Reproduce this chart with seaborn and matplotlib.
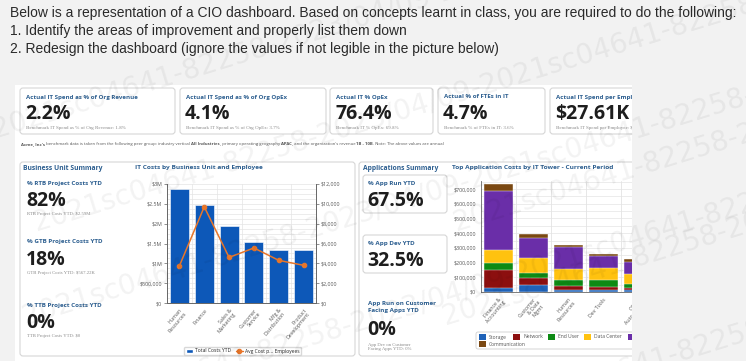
import matplotlib
matplotlib.use("Agg")
import matplotlib.pyplot as plt
from matplotlib.patches import FancyBboxPatch, Rectangle
from matplotlib.lines import Line2D
from matplotlib.transforms import Affine2D
from matplotlib.ticker import MultipleLocator
import pandas as pd
import seaborn as sns

W, H = 746, 361

# ---- data ----
header_lines = [
    "Below is a representation of a CIO dashboard. Based on concepts learnt in class, you are required to do the following:",
    "1. Identify the areas of improvement and properly list them down",
    "2. Redesign the dashboard (ignore the values if not legible in the picture below)",
]
kpi_titles = ["Actual IT Spend as % of Org Revenue", "Actual IT Spend as % of Org OpEx",
              "Actual IT % OpEx", "Actual % of FTEs in IT", "Actual IT Spend per Employee"]
kpi_values = ["2.2%", "4.1%", "76.4%", "4.7%", "$27.61K"]
kpi_benchmarks = ["Benchmark IT Spend as % of Org Revenue: 1.8%",
                  "Benchmark IT Spend as % of Org OpEx: 3.7%",
                  "Benchmark IT % OpEx: 69.8%",
                  "Benchmark % of FTEs in IT: 3.6%",
                  "Benchmark IT Spend per Employee: $21.40K"]
note_parts = [("Acme, Inc's", True),
              (" benchmark data is taken from the following peer group: industry vertical ", False),
              ("All Industries", True), (", primary operating geography ", False), ("APAC", True),
              (", and the organization's revenue ", False), ("1B - 10B", True),
              (". Note: The above values are annual", False)]

bu_kpi_titles = ["% RTB Project Costs YTD", "% GTB Project Costs YTD", "% TTB Project Costs YTD"]
bu_kpi_values = ["82%", "18%", "0%"]
bu_kpi_subs = ["RTB Project Costs YTD: $2.59M", "GTB Project Costs YTD: $567.22K", "TTB Project Costs YTD: $0"]

bu_units = ["Human\nResources", "Finance", "Sales &\nMarketing", "Customer\nService",
            "Mfg &\nDistribution", "Product\nDevelopment"]
bu_total = [2870000, 2460000, 1950000, 1530000, 1330000, 1330000]
bu_avg = [3750, 9700, 4600, 5550, 4300, 3800]
bu_left_ticks = [0, 500000, 1000000, 1500000, 2000000, 2500000, 3000000]
bu_left_labels = ["$0", "$500,000", "$1M", "$1.5M", "$2M", "$2.5M", "$3M"]
bu_right_ticks = [0, 2000, 4000, 6000, 8000, 10000, 12000]
bu_right_labels = ["$0", "$2,000", "$4,000", "$6,000", "$8,000", "$10,000", "$12,000"]

app_kpi_titles = ["% App Run YTD", "% App Dev YTD", "App Run on Customer\nFacing Apps YTD"]
app_kpi_values = ["67.5%", "32.5%", "0%"]
app_kpi_sub = "App Dev on Customer\nFacing Apps YTD: 0%"

app_cats = ["Finance &\nAccounting", "Customer\n& Data\nMgmt", "Human\nResources", "Dev Tools", "Office\nAutomation"]
towers = ["Storage", "Network", "End User", "Data Center", "Application", "Communication"]
storage = [27000, 46000, 16000, 16000, 11000]
network = [121000, 52000, 23000, 18000, 19000]
end_user = [46000, 32000, 41000, 50000, 22000]
data_center = [95000, 102000, 75000, 82000, 73000]
application = [401000, 137000, 148000, 80000, 80000]
communication = [43000, 23000, 20000, 11000, 18000]
app_ticks = [0, 100000, 200000, 300000, 400000, 500000, 600000, 700000]
app_labels = ["$0", "$100,000", "$200,000", "$300,000", "$400,000", "$500,000", "$600,000", "$700,000"]

watermark = "2021sc04641-82258-2023/04/09-"

# ---- style ----
BG = "#f2f2f2"
EDGE = "#d6d6d6"
TITLE = "#2d5f90"
GREY = "#8a8a8a"
DARK = "#1e1e1e"
BLUE = "#0d58b8"
ORANGE = "#e8762a"
tower_colors = ["#1f62b8", "#8c0f0f", "#0e8a14", "#ffc20f", "#6a2ea8", "#7a4812"]
UI = "Open Sans"
TXT = "Liberation Sans"

sns.set_theme(style="white")
plt.rcParams["font.family"] = [UI, "DejaVu Sans"]

fig = plt.figure(figsize=(W / 100, H / 100), dpi=100, facecolor=BG)
# pixel coordinates, origin top-left
T = Affine2D().scale(0.01, -0.01).translate(0, H / 100) + fig.dpi_scale_trans


def pt(p):
    return p * 0.72


def rect(x0, y0, x1, y1):
    return [x0 / W, 1 - y1 / H, (x1 - x0) / W, (y1 - y0) / H]


def box(x0, y0, x1, y1, fc="white", ec=EDGE, z=-4, r=3, lw=0.8):
    fig.add_artist(FancyBboxPatch((x0, y0), x1 - x0, y1 - y0, boxstyle=f"round,pad=0,rounding_size={r}",
                                  transform=T, fc=fc, ec=ec, lw=lw, zorder=z))


def txt(x, y, s, size, color=DARK, weight="normal", family=UI, **kw):
    return fig.text(x, y, s, transform=T, fontsize=pt(size), color=color, fontweight=weight,
                    family=[family, "DejaVu Sans"], va=kw.pop("va", "center"), **kw)


# faint screenshot watermark
for x0, y0 in [(-5, 138), (36, 231), (456, 231), (25, 325), (445, 325), (70, 419), (490, 419)]:
    fig.text(x0, y0, watermark * 2, transform=T, fontsize=20, color="#000000", alpha=0.05,
             rotation=17, rotation_mode="anchor", family="DejaVu Sans", zorder=20)

# header question text
for i, line in enumerate(header_lines):
    txt(10, 13 + 18 * i, line, 13.9, color="#2a2a2a", family=TXT)

# dashboard panel
fig.add_artist(Rectangle((15, 85), 617, 280, transform=T, fc="white", ec="none", zorder=-5))

# KPI cards
card_x = [(20, 175), (180, 326), (330, 433), (438, 545), (550, 720)]
for (x0, x1), t, v, b in zip(card_x, kpi_titles, kpi_values, kpi_benchmarks):
    box(x0, 88, x1, 134)
    txt(x0 + 6, 97, t, 6.2, color=TITLE, weight="bold")
    txt(x0 + 5, 114, v, 19.5, weight="bold")
    txt(x0 + 6, 128, b, 5.0, color=GREY, family="Liberation Serif")

# note line with bold fragments
renderer = fig.canvas.get_renderer()
nx = 21
for s, bold in note_parts:
    t = txt(nx, 144, s, 4.3, color="#555555", weight="bold" if bold else "normal")
    nx += t.get_window_extent(renderer).width

# lower boxes
box(20, 162, 355, 356)
box(359, 162, 720, 356)

# business unit summary
txt(23, 168, "Business Unit Summary", 6.8, color=TITLE, weight="bold")
for i, (t, v, s) in enumerate(zip(bu_kpi_titles, bu_kpi_values, bu_kpi_subs)):
    y0 = [183, 242, 305][i]
    txt(27, y0, t, 6.3, color=TITLE, weight="bold")
    txt(26, y0 + 18, v, 19.5, weight="bold")
    txt(27, y0 + 31, s, 4.8, color=GREY, family="Liberation Serif")

txt(135, 168, "IT Costs by Business Unit and Employee", 6.5, color=TITLE, weight="bold")

bu_df = pd.DataFrame({"unit": bu_units, "total": bu_total, "avg": bu_avg})
ax = fig.add_axes(rect(167, 184, 316, 303))
ax.set_axisbelow(True)
sns.barplot(data=bu_df, x="unit", y="total", color=BLUE, saturation=1, width=0.77,
            edgecolor="white", linewidth=0.4, ax=ax)
ax.set_ylim(0, 3000000)
ax.set_yticks(bu_left_ticks, bu_left_labels)
ax.yaxis.set_minor_locator(MultipleLocator(125000))
ax.grid(which="both", axis="y", color="#e4e4e4", lw=0.5)
for xb in [0.5, 1.5, 2.5, 3.5, 4.5]:
    ax.axvline(xb, color="#e4e4e4", lw=0.5, zorder=0)
ax.set_xlabel("")
ax.set_ylabel("")
ax.set_xticks(range(len(bu_units)), bu_units, rotation=50, ha="right", rotation_mode="anchor",
              fontsize=pt(5.2), color="#555555", linespacing=1.0)

ax2 = ax.twinx()
sns.pointplot(data=bu_df, x="unit", y="avg", color=ORANGE, marker="o", markersize=3.2,
              linewidth=1.1, ax=ax2)
ax2.set_ylim(0, 12000)
ax2.set_yticks(bu_right_ticks, bu_right_labels)
ax2.set_ylabel("")
ax2.set_xlabel("")
for a in (ax, ax2):
    a.spines["top"].set_visible(False)
    for side in ["left", "right", "bottom"]:
        a.spines[side].set_color("#666666")
        a.spines[side].set_linewidth(0.6)
    a.tick_params(axis="y", which="major", length=2, width=0.5, pad=1.5, labelsize=pt(5.2),
                  labelcolor="#555555", color="#666666")
    a.tick_params(axis="y", which="minor", length=0)
    a.tick_params(axis="x", length=2, width=0.5, pad=1.5, color="#666666")

leg_handles = [Rectangle((0, 0), 1, 1, fc=BLUE),
               Line2D([], [], color=ORANGE, marker="o", markersize=3, lw=1)]
ax.legend(leg_handles, ["Total Costs YTD", "Avg Cost p... Employees"], loc="center",
          bbox_to_anchor=((180 + 305) / 2 / W, 1 - 351 / H), bbox_transform=fig.transFigure,
          ncol=2, fontsize=pt(5.0), frameon=True, edgecolor="#cfcfcf", fancybox=True,
          handlelength=1.4, handleheight=0.9, columnspacing=1.0, borderpad=0.35, handletextpad=0.4)

# applications summary
txt(363, 168, "Applications Summary", 6.8, color=TITLE, weight="bold")
for i, (t, v) in enumerate(zip(app_kpi_titles[:2], app_kpi_values[:2])):
    y0 = [175, 235][i]
    box(363, y0, 447, y0 + 38, z=-3)
    txt(368, y0 + 9, t, 6.3, color=TITLE, weight="bold")
    txt(367, y0 + 26, v, 19.5, weight="bold")
txt(368, 307, app_kpi_titles[2], 6.3, color=TITLE, weight="bold", linespacing=1.3)
txt(367, 330, app_kpi_values[2], 19.5, weight="bold")
txt(368, 347, app_kpi_sub, 4.8, color=GREY, family="Liberation Serif", linespacing=1.3)

txt(452, 168, "Top Application Costs by IT Tower - Current Period", 6.5, color=TITLE, weight="bold")

app_df = pd.DataFrame({"cat": app_cats, "Storage": storage, "Network": network, "End User": end_user,
                       "Data Center": data_center, "Application": application,
                       "Communication": communication})
cum = app_df[towers].cumsum(axis=1)
ax3 = fig.add_axes(rect(481, 181, 656, 292))
ax3.set_axisbelow(True)
for name, col in reversed(list(zip(towers, tower_colors))):
    sns.barplot(x=app_df["cat"], y=cum[name], color=col, saturation=1, width=0.83,
                edgecolor="white", linewidth=0.3, ax=ax3)
ax3.set_ylim(0, 755000)
ax3.set_yticks(app_ticks, app_labels)
ax3.yaxis.set_minor_locator(MultipleLocator(50000))
ax3.grid(which="both", axis="y", color="#e4e4e4", lw=0.5)
for xb in [0.5, 1.5, 2.5, 3.5]:
    ax3.axvline(xb, color="#dddddd", lw=0.5, zorder=0)
ax3.set_xlabel("")
ax3.set_ylabel("")
ax3.set_xticks(range(len(app_cats)), app_cats, rotation=50, ha="right", rotation_mode="anchor",
               fontsize=pt(5.2), color="#555555", linespacing=1.0)
for side in ["top", "right"]:
    ax3.spines[side].set_visible(False)
for side in ["left", "bottom"]:
    ax3.spines[side].set_color("#666666")
    ax3.spines[side].set_linewidth(0.6)
ax3.tick_params(axis="y", which="major", length=2, width=0.5, pad=1.5, labelsize=pt(5.2),
                labelcolor="#555555", color="#666666")
ax3.tick_params(axis="y", which="minor", length=0)
ax3.tick_params(axis="x", length=2, width=0.5, pad=1.5, color="#666666")

# flow-layout legend for the stacked chart
box(476, 332, 700, 349, z=2, r=2, ec="#cfcfcf", lw=0.6)
leg_pos = [(479, 337), (513, 337), (548, 337), (584, 337), (628, 337), (479, 344)]
for (lx, ly), name, col in zip(leg_pos, towers, tower_colors):
    fig.add_artist(Rectangle((lx, ly - 3), 7, 6, transform=T, fc=col, ec="none", zorder=3))
    txt(lx + 10, ly, name, 5.0, color="#555555", zorder=3)

# right part of screenshot is outside the dashboard
fig.add_artist(Rectangle((632, 64), 120, 300, transform=T, fc=BG, ec="none", zorder=10))

fig.savefig("out.png", dpi=100, facecolor=BG)
